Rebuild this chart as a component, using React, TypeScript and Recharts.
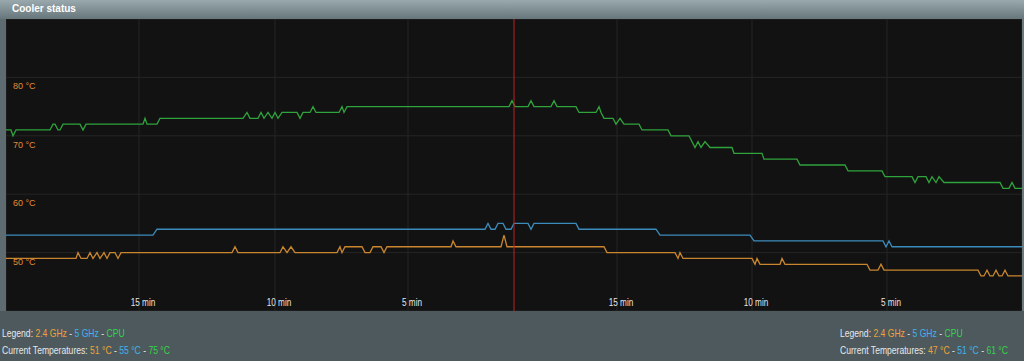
import React from "react";
import { LineChart, Line, XAxis, YAxis, CartesianGrid, ReferenceLine } from "recharts";

// x values are sample positions along the time axis (domain 6..1022)
const cpuX = [6, 11, 13, 16, 50, 53, 55, 58, 60, 63, 80, 83, 86, 143, 145, 147, 157, 160, 243, 247, 250, 258, 261, 264, 268, 272, 275, 278, 282, 297, 300, 303, 310, 313, 316, 339, 342, 344, 347, 509, 512, 515, 528, 531, 534, 551, 554, 557, 576, 579, 596, 599, 601, 604, 613, 616, 620, 624, 639, 642, 668, 671, 689, 695, 698, 701, 705, 710, 732, 734, 762, 764, 797, 800, 845, 848, 882, 885, 912, 915, 918, 926, 929, 932, 936, 939, 944, 1000, 1003, 1009, 1012, 1015, 1022];
const cpuTemp = [71, 71, 70, 71, 71, 72, 72, 71, 71, 72, 72, 71, 72, 72, 73, 72, 72, 73, 73, 74, 73, 73, 74, 73, 74, 73, 74, 73, 74, 74, 73, 74, 74, 75, 74, 74, 75, 74, 75, 75, 76, 75, 75, 76, 75, 75, 76, 75, 75, 74, 74, 75, 74, 73, 73, 72, 73, 72, 72, 71, 71, 70, 70, 68, 69, 68, 69, 68, 68, 67, 67, 66, 66, 65, 65, 64, 64, 63, 63, 62, 63, 63, 62, 63, 62, 63, 62, 62, 61, 61, 62, 61, 61];

const ghz5X = [6, 153, 157, 485, 488, 491, 495, 498, 503, 506, 511, 514, 528, 531, 534, 576, 579, 656, 660, 750, 754, 883, 886, 889, 892, 1022];
const ghz5Temp = [53, 53, 54, 54, 55, 54, 54, 55, 55, 54, 54, 55, 55, 54, 55, 55, 54, 54, 53, 53, 52, 52, 51, 52, 51, 51];

const ghz24X = [6, 76, 78, 81, 87, 90, 93, 97, 100, 104, 107, 110, 115, 118, 121, 232, 235, 238, 280, 283, 287, 291, 295, 337, 340, 342, 345, 362, 365, 370, 373, 381, 384, 387, 451, 453, 456, 501, 504, 507, 604, 607, 675, 678, 680, 683, 752, 755, 757, 760, 780, 782, 785, 867, 870, 878, 881, 884, 978, 981, 984, 987, 990, 993, 996, 999, 1002, 1005, 1008, 1022];
const ghz24Temp = [49, 49, 50, 49, 49, 50, 49, 50, 49, 50, 49, 50, 50, 49, 50, 50, 51, 50, 50, 51, 50, 51, 50, 50, 51, 50, 51, 51, 50, 50, 51, 51, 50, 51, 51, 52, 51, 51, 53, 51, 51, 50, 50, 49, 50, 49, 49, 48, 49, 48, 48, 49, 48, 48, 47, 47, 48, 47, 47, 46, 46, 47, 46, 46, 47, 46, 46, 47, 46, 46];

const xTickPositions = [139, 275, 408, 617, 752, 887];
const xTickLabels = ["15 min", "10 min", "5 min", "15 min", "10 min", "5 min"];
const yTicks = [50, 60, 70, 80];
const markerX = 514;

const leftCurrent = ["51 °C", "55 °C", "75 °C"];
const rightCurrent = ["47 °C", "51 °C", "61 °C"];
const seriesNames = ["2.4 GHz", "5 GHz", "CPU"];

const cpuData = cpuX.map((x, i) => ({ x, v: cpuTemp[i] }));
const ghz5Data = ghz5X.map((x, i) => ({ x, v: ghz5Temp[i] }));
const ghz24Data = ghz24X.map((x, i) => ({ x, v: ghz24Temp[i] }));

const ORANGE_LINE = "#c9862e";
const BLUE_LINE = "#3b8cbc";
const GREEN_LINE = "#2fa33c";
const ORANGE_TXT = "#f0a238";
const BLUE_TXT = "#3fb2f0";
const GREEN_TXT = "#35d34a";

const XTick = (props: any) => {
  const { x, payload } = props;
  const idx = xTickPositions.indexOf(payload.value);
  return (
    <g transform={`translate(${x + 4}, 287)`}>
      <text x={0} y={0} textAnchor="middle" fill="#e6e6e6" fontSize={10}
        fontFamily="'Liberation Sans', Arial, sans-serif" transform="scale(0.82,1)">
        {xTickLabels[idx]}
      </text>
    </g>
  );
};

const YTick = (props: any) => {
  const { y, payload } = props;
  return (
    <text x={7} y={y + 12} textAnchor="start" fill="#e48a34" fontSize={9}
      fontFamily="'Liberation Sans', Arial, sans-serif">
      {payload.value + " °C"}
    </text>
  );
};

const legendFont = "'Liberation Sans', Arial, sans-serif";

const LegendBlock = ({ left, current }: { left: number; current: string[] }) => (
  <div style={{ position: "absolute", left, top: 325, fontFamily: legendFont, fontSize: 11, color: "#e8e8e8", lineHeight: "17px", whiteSpace: "nowrap", transform: "scaleX(0.78)", transformOrigin: "0 0" }}>
    <div>
      Legend: <span style={{ color: ORANGE_TXT }}>{seriesNames[0]}</span> - <span style={{ color: BLUE_TXT }}>{seriesNames[1]}</span> - <span style={{ color: GREEN_TXT }}>{seriesNames[2]}</span>
    </div>
    <div>
      Current Temperatures: <span style={{ color: ORANGE_TXT }}>{current[0]}</span> - <span style={{ color: BLUE_TXT }}>{current[1]}</span> - <span style={{ color: GREEN_TXT }}>{current[2]}</span>
    </div>
  </div>
);

export default function App() {
  return (
    <div style={{ position: "absolute", left: 0, top: 0, width: 1024, height: 361, background: "#4d595d", overflow: "hidden" }}>
      <div style={{ position: "absolute", left: 0, top: 0, width: 1024, height: 19, background: "linear-gradient(#9aa9ad, #66767b)" }} />
      <div style={{ position: "absolute", left: 12, top: 3, fontFamily: "'Liberation Sans', Arial, sans-serif", fontWeight: "bold", fontSize: 10, color: "#ffffff" }}>
        Cooler status
      </div>
      <div style={{ position: "absolute", left: 0, top: 19, width: 6, height: 292, background: "#5e6c71" }} />
      <div style={{ position: "absolute", left: 1022, top: 19, width: 2, height: 292, background: "#6c797d" }} />
      <div style={{ position: "absolute", left: 6, top: 19, width: 1016, height: 292, background: "#121212" }}>
        <LineChart width={1016} height={292} margin={{ top: 0, right: 0, bottom: 0, left: 0 }}>
          <CartesianGrid stroke="#252525" strokeWidth={1} />
          <XAxis type="number" dataKey="x" domain={[6, 1022]} allowDataOverflow ticks={xTickPositions}
            mirror axisLine={false} tickLine={false} tick={<XTick />} interval={0} />
          <YAxis type="number" domain={[40, 90]} allowDataOverflow ticks={yTicks}
            mirror axisLine={false} tickLine={false} tick={<YTick />} interval={0} />
          <Line data={ghz24Data} dataKey="v" type="linear" stroke={ORANGE_LINE} strokeWidth={1.3} dot={false} isAnimationActive={false} />
          <Line data={ghz5Data} dataKey="v" type="linear" stroke={BLUE_LINE} strokeWidth={1.3} dot={false} isAnimationActive={false} />
          <Line data={cpuData} dataKey="v" type="linear" stroke={GREEN_LINE} strokeWidth={1.3} dot={false} isAnimationActive={false} />
          <ReferenceLine x={markerX} stroke="#c41e1e" strokeWidth={1} />
        </LineChart>
      </div>
      <LegendBlock left={2} current={leftCurrent} />
      <LegendBlock left={840} current={rightCurrent} />
    </div>
  );
}
